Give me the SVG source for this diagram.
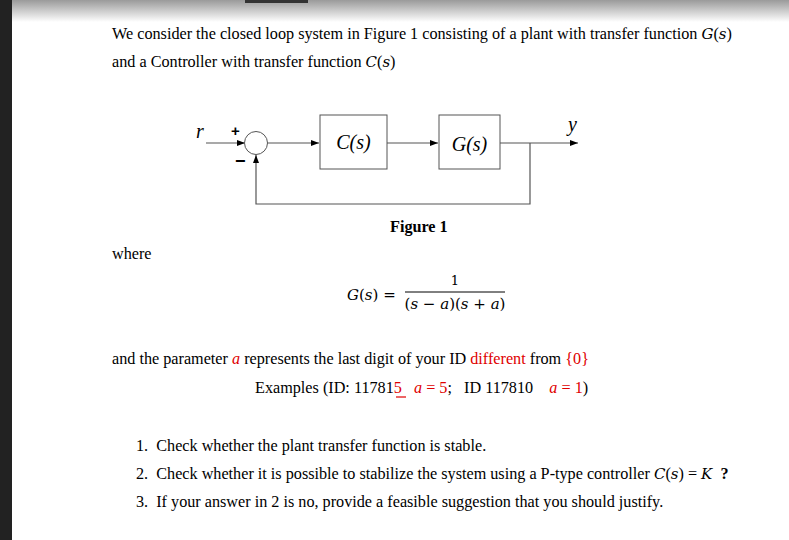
<svg xmlns="http://www.w3.org/2000/svg" width="789" height="540" viewBox="0 0 789 540">
<defs>
<linearGradient id="tg" x1="0" y1="0" x2="0" y2="1"><stop offset="0" stop-color="#9a9a9a"/><stop offset="1" stop-color="#ffffff"/></linearGradient>
<marker id="ar" markerWidth="8" markerHeight="6" refX="8" refY="3" orient="auto" markerUnits="userSpaceOnUse"><path d="M0,0 L8,3 L0,6 z" fill="#000"/></marker>
<style>
.t{font-family:"Liberation Serif",serif;font-size:16.2px;fill:#000}
.m{font-family:"DejaVu Serif","Liberation Serif",serif;font-size:15px;font-style:italic}
.n{font-style:normal}
.i{font-style:italic}
.r{fill:#e00000}
.ln{stroke:#555;stroke-width:1.2;fill:none}
.bx{stroke:#555;stroke-width:1;fill:#fff}
</style>
</defs>
<rect width="789" height="540" fill="#fff"/>
<rect width="789" height="22" fill="url(#tg)"/>
<rect x="0" y="0" width="12" height="540" fill="#222"/>
<rect x="245" y="0" width="63" height="3" fill="#333"/>
<text class="t" x="112" y="39">We consider the closed loop system in Figure 1 consisting of a plant with transfer function <tspan class="m">G</tspan>(<tspan class="m">s</tspan>)</text>
<text class="t" x="112" y="67">and a Controller with transfer function <tspan class="m">C</tspan>(<tspan class="m">s</tspan>)</text>
<g id="connectors">
<line class="ln" x1="206" y1="143" x2="245" y2="143" marker-end="url(#ar)"/>
<line class="ln" x1="268" y1="143" x2="319" y2="143" marker-end="url(#ar)"/>
<line class="ln" x1="387" y1="143" x2="438" y2="143" marker-end="url(#ar)"/>
<line class="ln" x1="500" y1="143" x2="578" y2="143" marker-end="url(#ar)"/>
<polyline class="ln" points="530,143 530,204 256,204 256,155" marker-end="url(#ar)"/>
</g>
<g id="sum"><circle cx="256" cy="143" r="11.5" class="bx"/>
<text x="231" y="136" font-family="Liberation Sans,sans-serif" font-size="15" font-weight="bold">+</text>
<text x="235" y="167" font-family="Liberation Sans,sans-serif" font-size="18" font-weight="bold">−</text>
<text x="196" y="138" class="t i" style="font-size:20px">r</text></g>
<g id="C"><rect x="320" y="115" width="67" height="54" class="bx"/><text x="353.5" y="149" class="t i" style="font-size:20px" text-anchor="middle">C(s)</text></g>
<g id="G"><rect x="439" y="115" width="61" height="54" class="bx"/><text x="469.5" y="151" class="t i" style="font-size:20px" text-anchor="middle">G(s)</text></g>
<text x="568" y="131" class="t i" style="font-size:20px">y</text>
<text class="t" x="390" y="232" font-weight="bold">Figure 1</text>
<text class="t" x="112" y="259">where</text>
<text class="m" x="347" y="300">G<tspan class="n">(</tspan>s<tspan class="n">) =</tspan></text>
<text class="m n" x="455" y="285" text-anchor="middle" style="font-size:13px">1</text>
<line x1="405" y1="292" x2="505" y2="292" stroke="#000" stroke-width="1"/>
<text class="m" x="455" y="309" text-anchor="middle"><tspan class="n">(</tspan>s − a<tspan class="n">)(</tspan>s + a<tspan class="n">)</tspan></text>
<text class="t" x="112" y="364">and the parameter <tspan class="r i">a</tspan> represents the last digit of your ID <tspan class="r">different</tspan> from <tspan class="r">{0}</tspan></text>
<text class="t" x="255" y="393" xml:space="preserve">Examples (ID: 11781<tspan class="r">5</tspan>   <tspan class="r"><tspan class="i">a</tspan> = 5</tspan>;   ID 117810    <tspan class="r"><tspan class="i">a</tspan> = 1</tspan>)</text>
<line x1="396" y1="397" x2="406" y2="397" stroke="#e00000" stroke-width="1.2"/>
<text class="t" x="136" y="451" xml:space="preserve">1.  Check whether the plant transfer function is stable.</text>
<text class="t" x="136" y="479" xml:space="preserve">2.  Check whether it is possible to stabilize the system using a P-type controller <tspan class="m">C</tspan>(<tspan class="m">s</tspan>) = <tspan class="m">K</tspan>  <tspan font-weight="bold">?</tspan></text>
<text class="t" x="136" y="507" xml:space="preserve">3.  If your answer in 2 is no, provide a feasible suggestion that you should justify.</text>
</svg>
